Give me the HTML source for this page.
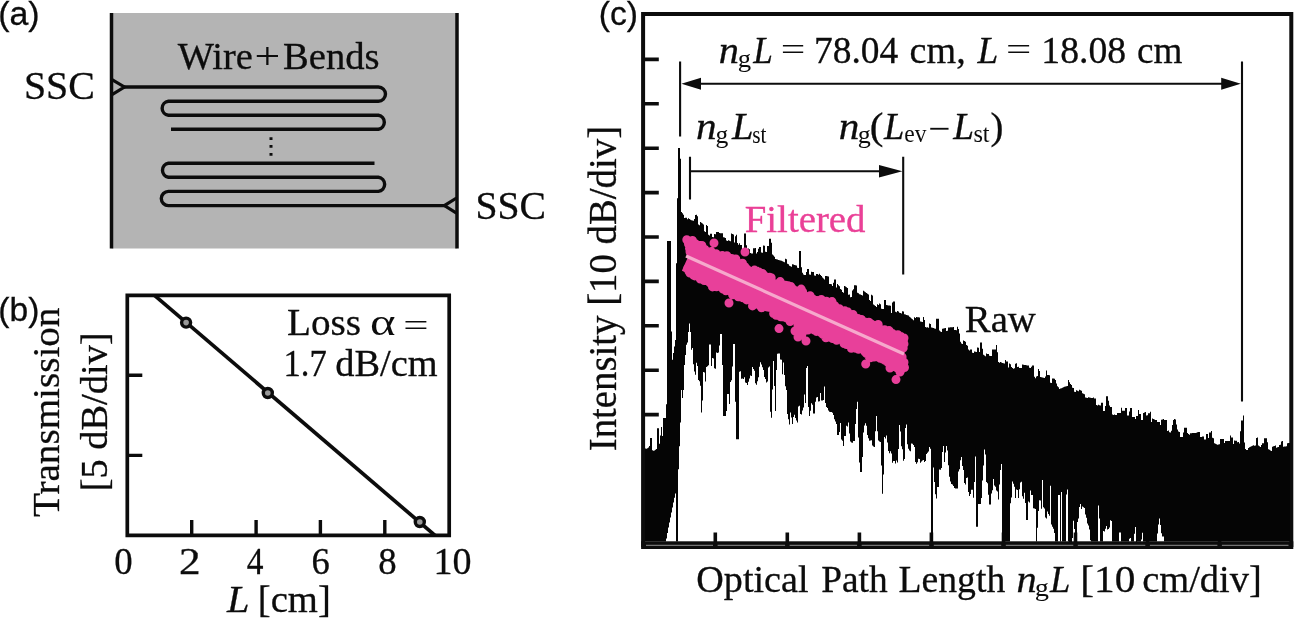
<!DOCTYPE html>
<html lang="en"><head><meta charset="utf-8"><title>Figure</title>
<style>html,body{margin:0;padding:0;background:#fff}body{width:1294px;height:622px;overflow:hidden}svg{display:block}
text{font-family:"Liberation Serif", serif;fill:#0c0c0c;stroke:#0c0c0c;stroke-width:.3px}.s{font-family:"Liberation Sans", sans-serif;stroke-width:.3px}.i{font-style:italic}.p{fill:#ea4097;stroke:#ea4097}.u{stroke:none}</style></head><body>
<svg width="1294" height="622" viewBox="0 0 1294 622">
<rect width="1294" height="622" fill="#fff"/>
<g id="pa">
<rect x="111.5" y="13" width="345.5" height="235.5" fill="#b4b4b4"/>
<path d="M111.5 13V248.5M457 13V248.5" stroke="#0c0c0c" stroke-width="3.5" fill="none"/>
<path d="M123 87H378.4A7.1 7.1 0 0 1 378.4 101.2H168.4A7.1 7.1 0 0 0 168.4 115.3H378.4A7.1 7.1 0 0 1 378.4 129.3H171" stroke="#0c0c0c" stroke-width="3.4" fill="none"/>
<path d="M374.5 163.3H168.4A7.1 7.1 0 0 0 168.4 177.3H378.4A7.1 7.1 0 0 1 378.4 191.4H168.4A7.1 7.1 0 0 0 168.4 205.6H446" stroke="#0c0c0c" stroke-width="3.4" fill="none"/>
<path d="M112 79.6L124.4 87L112 94.6" stroke="#0c0c0c" stroke-width="3.2" fill="none"/>
<path d="M456.5 198L444.4 205.6L456.5 213.2" stroke="#0c0c0c" stroke-width="3.2" fill="none"/>
<path d="M269.5 137.2h3v2.8h-3zM269.5 144.9h3v2.8h-3zM269.5 153h3v2.8h-3z" fill="#0c0c0c"/>
<text x="177.65" y="68.80" font-size="37.5" textLength="75.18" lengthAdjust="spacingAndGlyphs">Wire</text>
<text class="u" x="254.57" y="68.80" font-size="37.5" textLength="25.75" lengthAdjust="spacingAndGlyphs">+</text>
<text x="282.97" y="68.80" font-size="37.5" textLength="96.62" lengthAdjust="spacingAndGlyphs">Bends</text>
<text x="23.89" y="98.60" font-size="40.5" textLength="70.99" lengthAdjust="spacingAndGlyphs">SSC</text>
<text x="475.51" y="219.20" font-size="40.5" textLength="70.56" lengthAdjust="spacingAndGlyphs">SSC</text>
<text class="s" x="-1.75" y="25.10" font-size="33" textLength="41.40" lengthAdjust="spacingAndGlyphs">(a)</text>
</g>
<g id="pb">
<path d="M127.3 295.3H449.2V535.4H127.3Z" fill="#fff" stroke="#0c0c0c" stroke-width="3.7"/>
<path d="M127.3 375.3H142.3M127.3 455.4H142.3M191.7 535V520M256.1 535V520M320.4 535V520M384.8 535V520" stroke="#0c0c0c" stroke-width="3.4" fill="none"/>
<path d="M154.5 295.3L435 535.4" stroke="#0c0c0c" stroke-width="3.7" fill="none"/>
<circle cx="186.1" cy="322.6" r="4.5" fill="#999" stroke="#0c0c0c" stroke-width="3.4"/>
<circle cx="267.8" cy="393" r="4.5" fill="#999" stroke="#0c0c0c" stroke-width="3.4"/>
<circle cx="419.8" cy="522" r="4.5" fill="#999" stroke="#0c0c0c" stroke-width="3.4"/>
<text x="286.97" y="335.20" font-size="38" textLength="74.07" lengthAdjust="spacingAndGlyphs">Loss</text>
<text class="u" x="370.08" y="335.20" font-size="38" textLength="25.50" lengthAdjust="spacingAndGlyphs">α</text>
<text class="u" x="403.16" y="336.40" font-size="31.5" textLength="25.29" lengthAdjust="spacingAndGlyphs">=</text>
<text x="283.61" y="375.60" font-size="37.5" textLength="43.12" lengthAdjust="spacingAndGlyphs">1.7</text>
<text x="335.22" y="375.60" font-size="37.5" textLength="102.39" lengthAdjust="spacingAndGlyphs">dB/cm</text>
<text x="114.15" y="573.80" font-size="38" textLength="18.41" lengthAdjust="spacingAndGlyphs">0</text>
<text x="179.11" y="573.80" font-size="38" textLength="21.55" lengthAdjust="spacingAndGlyphs">2</text>
<text x="246.84" y="573.80" font-size="38" textLength="16.70" lengthAdjust="spacingAndGlyphs">4</text>
<text x="311.52" y="573.80" font-size="38" textLength="18.29" lengthAdjust="spacingAndGlyphs">6</text>
<text x="378.15" y="573.80" font-size="38" textLength="18.41" lengthAdjust="spacingAndGlyphs">8</text>
<text x="433.55" y="573.80" font-size="38" textLength="38.06" lengthAdjust="spacingAndGlyphs">10</text>
<text transform="translate(58.70 517.06) rotate(-90)" font-size="38.5" textLength="209.50" lengthAdjust="spacingAndGlyphs">Transmission</text>
<text transform="translate(106.70 491.34) rotate(-90)" font-size="38.5" textLength="158.98" lengthAdjust="spacingAndGlyphs">[5 dB/div]</text>
<text class="s" x="-1.74" y="321.20" font-size="33" textLength="41.07" lengthAdjust="spacingAndGlyphs">(b)</text>
<text x="227.13" y="612.40" font-size="38" textLength="22.48" lengthAdjust="spacingAndGlyphs"><tspan class="i">L</tspan></text>
<text x="257.80" y="612.40" font-size="38" textLength="72.98" lengthAdjust="spacingAndGlyphs">[cm]</text>
</g>
<g id="pc">
<path d="M643.1 14H1291.3V545H643.1Z" fill="#fff" stroke="#0c0c0c" stroke-width="4"/>
<path d="M643 59.4H658.8M643 103.8H658.8M643 148.2H658.8M643 192.6H658.8M643 237H658.8M643 281.4H658.8M643 325.8H658.8M643 370.2H658.8M643 414.6H658.8M643 459H658.8M643 503.4H658.8" stroke="#0c0c0c" stroke-width="3.6" fill="none"/>
<path d="M715.3 543V532.5M787.3 543V532.5M859.4 543V532.5M931.4 543V532.5M1003.5 543V532.5M1075.5 543V532.5M1147.6 543V532.5M1219.6 543V532.5" stroke="#0c0c0c" stroke-width="3.6" fill="none"/>
<path d="M645 541.5L645 448.5H646L646 448.8H647L647 448.2H648L648 447.4H649L649 446.1H650L650 438H651L651 438H652L652 450.3H653L653 450.8H654L654 450.6H655L655 449.8H656L656 449.1H657L657 428.3H658L658 428.3H659L659 443.8H660L660 435.5H661L661 427H662L662 436H663L663 418H664L664 418H665L665 418H666L666 404.2H667L667 241H668L668 241H669L669 241H670L670 241H671L671 331.5H672L672 359.7H673L673 353.1H674L674 346.6H675L675 340H676L676 263.2H677L677 198.2H678L678 148H679L679 148H680L680 158.7H681L681 212.1H682L682 213.3H683L683 214.7H684L684 218H685L685 217.7H686L686 217.7H687L687 219.2H688L688 218.3H689L689 219H690L690 219.7H691L691 220.2H692L692 220.5H693L693 220.8H694L694 219H695L695 215.1H696L696 214.7H697L697 216.3H698L698 224.4H699L699 225.2H700L700 222H701L701 222.8H702L702 223.6H703L703 224.4H704L704 231.3H705L705 232.1H706L706 225H707L707 225.9H708L708 234.7H709L709 235.6H710L710 233.7H711L711 233.7H712L712 237H713L713 237.2H714L714 233.9H715L715 234.2H716L716 231.9H717L717 232H718L718 232.1H719L719 233.1H720L720 233.2H721L721 233.2H722L722 233.2H723L723 237.3H724L724 237.5H725L725 238H726L726 240.4H727L727 240.9H728L728 240.3H729L729 240.7H730L730 241.2H731L731 233.6H732L732 234H733L733 234.5H734L734 242.4H735L735 236.3H736L736 234.8H737L737 243H738L738 244.7H739L739 243.3H740L740 245H741L741 245H742L742 250H743L743 250H744L744 233.4H745L745 233.4H746L746 245.2H747L747 250.7H748L748 248.5H749L749 249.3H750L750 253.1H751L751 253.5H752L752 253.4H753L753 248.3H754L754 248.2H755L755 248.1H756L756 253.5H757L757 251.9H758L758 248.8H759L759 247H760L760 247H761L761 252.5H762L762 252.8H763L763 245.5H764L764 245.7H765L765 251.8H766L766 251.9H767L767 245.9H768L768 246H769L769 238.8H770L770 238.8H771L771 242.8H772L772 254.5H773L773 255.6H774L774 256.7H775L775 259H776L776 259.3H777L777 259.6H778L778 259.9H779L779 260.2H780L780 260.5H781L781 260.8H782L782 261.2H783L783 261.8H784L784 262.2H785L785 258.8H786L786 259.2H787L787 263.8H788L788 264.2H789L789 265.8H790L790 266.2H791L791 266.8H792L792 264.2H793L793 264.6H794L794 264.9H795L795 265.2H796L796 265.4H797L797 267.7H798L798 268H799L799 251H800L800 251H801L801 267.2H802L802 272.8H803L803 274.5H804L804 275H805L805 275H806L806 272H807L807 269H808L808 269H809L809 274.6H810L810 274.7H811L811 271.8H812L812 271.9H813L813 272H814L814 275.6H815L815 275.7H816L816 273.9H817L817 274H818L818 274.8H819L819 273.8H820L820 274.9H821L821 275.9H822L822 277.4H823L823 278.4H824L824 279.5H825L825 276H826L826 276.1H827L827 276.3H828L828 276.4H829L829 284H830L830 284.1H831L831 284.3H832L832 285.9H833L833 282.8H834L834 279.5H835L835 279.5H836L836 287.6H837L837 283.9H838L838 285.2H839L839 286.3H840L840 289H841L841 289.7H842L842 291.9H843L843 292.7H844L844 285.9H845L845 286.6H846L846 287.3H847L847 288.1H848L848 294.8H849L849 294.6H850L850 297.3H851L851 297.1H852L852 290.4H853L853 289.3H854L854 285.2H855L855 285.2H856L856 285.5H857L857 292.8H858L858 293.2H859L859 294.2H860L860 294.6H861L861 295.1H862L862 295.5H863L863 290.7H864L864 291.5H865L865 292.2H866L866 292.9H867L867 293.7H868L868 294.4H869L869 300.1H870L870 300.9H871L871 294.8H872L872 295.6H873L873 304.4H874L874 305.3H875L875 306.1H876L876 306.9H877L877 304.3H878L878 305.1H879L879 303.4H880L880 304.3H881L881 308.8H882L882 308.9H883L883 308.9H884L884 300H885L885 300H886L886 305.1H887L887 305.2H888L888 305.4H889L889 305.6H890L890 305.7H891L891 312.9H892L892 302.5H893L893 301.5H894L894 301.5H895L895 311.8H896L896 312.2H897L897 311H898L898 311.4H899L899 312.8H900L900 313.1H901L901 313.4H902L902 311.2H903L903 311.5H904L904 314.3H905L905 314.6H906L906 314.9H907L907 315.2H908L908 315.5H909L909 316.8H910L910 317.5H911L911 318.4H912L912 319.3H913L913 320.2H914L914 317.2H915L915 318.1H916L916 317H917L917 317.2H918L918 317.3H919L919 317.5H920L920 321.6H921L921 321.8H922L922 322H923L923 317H924L924 320H925L925 327.1H926L926 327.6H927L927 327.2H928L928 327.8H929L929 323.4H930L930 324H931L931 327.4H932L932 327.7H933L933 328.1H934L934 328.5H935L935 328.8H936L936 318.8H937L937 318.8H938L938 318.8H939L939 330.6H940L940 331.5H941L941 331.9H942L942 328.7H943L943 328.5H944L944 328.3H945L945 328.1H946L946 330.9H947L947 330.7H948L948 327.5H949L949 327.4H950L950 327.3H951L951 327.3H952L952 327.2H953L953 327.1H954L954 330.1H955L955 330H956L956 330.2H957L957 326.8H958L958 329.1H959L959 333.4H960L960 341.7H961L961 343.4H962L962 344H963L963 340.6H964L964 341.1H965L965 341.7H966L966 344.9H967L967 345.8H968L968 349.6H969L969 350.5H970L970 349.5H971L971 349.6H972L972 352.8H973L973 353H974L974 351.6H975L975 351.8H976L976 352H977L977 347.6H978L978 347.8H979L979 352H980L980 342.6H981L981 342.6H982L982 348.8H983L983 354.7H984L984 355.5H985L985 356.3H986L986 353.6H987L987 354.1H988L988 354.1H989L989 355.8H990L990 355.9H991L991 355.9H992L992 349.5H993L993 349.5H994L994 349.5H995L995 349.5H996L996 345H997L997 352.2H998L998 362H999L999 362.8H1000L1000 362.1H1001L1001 362.6H1002L1002 362.9H1003L1003 363.2H1004L1004 363.4H1005L1005 360.1H1006L1006 361.6H1007L1007 361.6H1008L1008 367.6H1009L1009 363.4H1010L1010 364.3H1011L1011 367.1H1012L1012 367.9H1013L1013 368.7H1014L1014 368.2H1015L1015 363.7H1016L1016 363.2H1017L1017 366.9H1018L1018 366.8H1019L1019 368.1H1020L1020 368H1021L1021 368H1022L1022 364.6H1023L1023 364.8H1024L1024 364.9H1025L1025 365.1H1026L1026 365.2H1027L1027 365.4H1028L1028 365.6H1029L1029 367.7H1030L1030 367.9H1031L1031 366.8H1032L1032 365.6H1033L1033 365.6H1034L1034 376.8H1035L1035 378.3H1036L1036 376.4H1037L1037 376H1038L1038 369H1039L1039 371H1040L1040 377.1H1041L1041 377.3H1042L1042 377.5H1043L1043 377.8H1044L1044 378H1045L1045 376.4H1046L1046 370.4H1047L1047 375H1048L1048 375.1H1049L1049 375.2H1050L1050 382.8H1051L1051 382.9H1052L1052 378.5H1053L1053 378.6H1054L1054 378.7H1055L1055 380.1H1056L1056 383.6H1057L1057 386.2H1058L1058 387.3H1059L1059 388.9H1060L1060 388.6H1061L1061 388.2H1062L1062 387.8H1063L1063 387.2H1064L1064 386.8H1065L1065 386.4H1066L1066 386.2H1067L1067 386.1H1068L1068 380.1H1069L1069 382.2H1070L1070 384.1H1071L1071 385.1H1072L1072 387.8H1073L1073 388.1H1074L1074 391.8H1075L1075 392H1076L1076 390.3H1077L1077 390.7H1078L1078 391.2H1079L1079 389.7H1080L1080 390.2H1081L1081 390.7H1082L1082 393.2H1083L1083 393.7H1084L1084 394.2H1085L1085 397.5H1086L1086 397.7H1087L1087 398H1088L1088 397.3H1089L1089 397.6H1090L1090 397.8H1091L1091 397.9H1092L1092 398H1093L1093 397.5H1094L1094 398.5H1095L1095 398.5H1096L1096 404.9H1097L1097 405.6H1098L1098 404.7H1099L1099 405.3H1100L1100 405.6H1101L1101 402.7H1102L1102 402.8H1103L1103 410.9H1104L1104 410.9H1105L1105 406.1H1106L1106 396.3H1107L1107 396.3H1108L1108 400.8H1109L1109 405.5H1110L1110 407H1111L1111 407H1112L1112 414.4H1113L1113 414.9H1114L1114 414.4H1115L1115 414.9H1116L1116 415H1117L1117 413H1118L1118 413H1119L1119 413H1120L1120 413H1121L1121 407.8H1122L1122 410.8H1123L1123 410.8H1124L1124 410.8H1125L1125 408H1126L1126 408H1127L1127 415.5H1128L1128 415.5H1129L1129 411.5H1130L1130 408H1131L1131 408H1132L1132 417H1133L1133 417H1134L1134 417H1135L1135 419H1136L1136 416H1137L1137 416H1138L1138 410H1139L1139 414H1140L1140 414H1141L1141 420H1142L1142 420H1143L1143 413H1144L1144 412.6H1145L1145 411.9H1146L1146 415.4H1147L1147 415.2H1148L1148 413.2H1149L1149 413.2H1150L1150 411.7H1151L1151 422.1H1152L1152 418.6H1153L1153 419H1154L1154 419.4H1155L1155 419.9H1156L1156 420H1157L1157 422H1158L1158 422H1159L1159 422H1160L1160 425H1161L1161 419.8H1162L1162 419.4H1163L1163 418.9H1164L1164 419.9H1165L1165 419.9H1166L1166 419.9H1167L1167 431.1H1168L1168 430.6H1169L1169 432.2H1170L1170 432.4H1171L1171 430.7H1172L1172 425H1173L1173 420H1174L1174 419H1175L1175 419.5H1176L1176 424.5H1177L1177 429.5H1178L1178 431.5H1179L1179 432H1180L1180 437H1181L1181 437H1182L1182 437H1183L1183 432.4H1184L1184 427.8H1185L1185 427.8H1186L1186 427.8H1187L1187 433.1H1188L1188 433.9H1189L1189 434.7H1190L1190 433.3H1191L1191 433.2H1192L1192 433H1193L1193 433H1194L1194 433H1195L1195 433H1196L1196 432.8H1197L1197 432.3H1198L1198 432H1199L1199 432H1200L1200 437H1201L1201 437H1202L1202 436.5H1203L1203 436.5H1204L1204 439.5H1205L1205 439.5H1206L1206 434H1207L1207 434H1208L1208 438H1209L1209 432.5H1210L1210 432.5H1211L1211 431H1212L1212 437.7H1213L1213 438.2H1214L1214 443.2H1215L1215 443.7H1216L1216 444.2H1217L1217 444.7H1218L1218 444.5H1219L1219 444.2H1220L1220 439H1221L1221 439H1222L1222 439H1223L1223 439H1224L1224 443H1225L1225 441H1226L1226 441H1227L1227 441H1228L1228 441H1229L1229 441H1230L1230 435.5H1231L1231 437.5H1232L1232 437.5H1233L1233 444.1H1234L1234 440.5H1235L1235 440.8H1236L1236 440.8H1237L1237 442.3H1238L1238 441.9H1239L1239 443.4H1240L1240 431.2H1241L1241 420.4H1242L1242 420.4H1243L1243 415.4H1244L1244 442.6H1245L1245 449H1246L1246 449.9H1247L1247 450H1248L1248 447.9H1249L1249 447.3H1250L1250 446.8H1251L1251 446.2H1252L1252 445.8H1253L1253 445.2H1254L1254 445.8H1255L1255 445.4H1256L1256 437.9H1257L1257 437.5H1258L1258 445.5H1259L1259 446.3H1260L1260 447.1H1261L1261 445.1H1262L1262 443.3H1263L1263 443.3H1264L1264 438.3H1265L1265 438.3H1266L1266 438.3H1267L1267 442.3H1268L1268 449.3H1269L1269 449.8H1270L1270 450.4H1271L1271 450.9H1272L1272 446.7H1273L1273 446.3H1274L1274 445.9H1275L1275 445.6H1276L1276 447.7H1277L1277 447.3H1278L1278 447H1279L1279 445.1H1280L1280 444.8H1281L1281 441.4H1282L1282 441H1283L1283 446.7H1284L1284 446.5H1285L1285 446.4H1286L1286 446.3H1287L1287 443.2H1288L1288 443.1H1289L1289 443H1290L1290 541.5H1289L1289 541.5H1288L1288 541.5H1287L1287 541.5H1286L1286 541.5H1285L1285 541.5H1284L1284 541.5H1283L1283 541.5H1282L1282 541.5H1281L1281 541.5H1280L1280 541.5H1279L1279 541.5H1278L1278 541.5H1277L1277 541.5H1276L1276 541.5H1275L1275 541.5H1274L1274 541.5H1273L1273 541.5H1272L1272 541.5H1271L1271 541.5H1270L1270 541.5H1269L1269 541.5H1268L1268 541.5H1267L1267 541.5H1266L1266 541.5H1265L1265 541.5H1264L1264 541.5H1263L1263 541.5H1262L1262 541.5H1261L1261 541.5H1260L1260 541.5H1259L1259 541.5H1258L1258 541.5H1257L1257 541.5H1256L1256 541.5H1255L1255 541.5H1254L1254 541.5H1253L1253 541.5H1252L1252 541.5H1251L1251 541.5H1250L1250 541.5H1249L1249 541.5H1248L1248 541.5H1247L1247 541.5H1246L1246 541.5H1245L1245 541.5H1244L1244 541.5H1243L1243 541.5H1242L1242 541.5H1241L1241 541.5H1240L1240 541.5H1239L1239 541.5H1238L1238 541.5H1237L1237 541.5H1236L1236 541.5H1235L1235 541.5H1234L1234 541.5H1233L1233 541.5H1232L1232 541.5H1231L1231 541.5H1230L1230 541.5H1229L1229 541.5H1228L1228 541.5H1227L1227 541.5H1226L1226 541.5H1225L1225 541.5H1224L1224 541.5H1223L1223 541.5H1222L1222 541.5H1221L1221 541.5H1220L1220 541.5H1219L1219 541.5H1218L1218 541.5H1217L1217 541.5H1216L1216 541.5H1215L1215 541.5H1214L1214 541.5H1213L1213 541.5H1212L1212 541.5H1211L1211 541.5H1210L1210 541.5H1209L1209 541.5H1208L1208 541.5H1207L1207 541.5H1206L1206 541.5H1205L1205 541.5H1204L1204 541.5H1203L1203 541.5H1202L1202 541.5H1201L1201 541.5H1200L1200 541.5H1199L1199 541.5H1198L1198 541.5H1197L1197 541.5H1196L1196 541.5H1195L1195 541.5H1194L1194 541.5H1193L1193 541.5H1192L1192 541.5H1191L1191 541.5H1190L1190 541.5H1189L1189 541.5H1188L1188 541.5H1187L1187 541.5H1186L1186 541.5H1185L1185 541.5H1184L1184 541.5H1183L1183 541.5H1182L1182 541.5H1181L1181 541.5H1180L1180 541.5H1179L1179 541.5H1178L1178 541.5H1177L1177 541.5H1176L1176 541.5H1175L1175 541.5H1174L1174 541.5H1173L1173 541.5H1172L1172 541.5H1171L1171 541.5H1170L1170 541.5H1169L1169 541.5H1168L1168 541.5H1167L1167 541.5H1166L1166 541.5H1165L1165 541.5H1164L1164 536.5H1163L1163 536.5H1162L1162 533.3H1161L1161 525H1160L1160 518.5H1159L1159 524.6H1158L1158 533.5H1157L1157 541.5H1156L1156 541.5H1155L1155 541.5H1154L1154 541.5H1153L1153 541.5H1152L1152 541.5H1151L1151 541.5H1150L1150 541.5H1149L1149 541.5H1148L1148 541.5H1147L1147 541.5H1146L1146 541.5H1145L1145 541.5H1144L1144 541.5H1143L1143 532.8H1142L1142 539.6H1141L1141 541.5H1140L1140 541.5H1139L1139 541.5H1138L1138 541.5H1137L1137 543H1136L1136 527H1135L1135 533.8H1134L1134 541.5H1133L1133 541.5H1132L1132 541.5H1131L1131 538H1130L1130 538.8H1129L1129 541.5H1128L1128 541.5H1127L1127 541.5H1126L1126 541.5H1125L1125 541.5H1124L1124 541.5H1123L1123 541.5H1122L1122 541.5H1121L1121 532.5H1120L1120 532.5H1119L1119 541.5H1118L1118 541.5H1117L1117 541.5H1116L1116 541.5H1115L1115 541.5H1114L1114 541.5H1113L1113 541.5H1112L1112 521H1111L1111 520.2H1110L1110 527.4H1109L1109 528.9H1108L1108 529.6H1107L1107 526.1H1106L1106 528.8H1105L1105 531.4H1104L1104 531H1103L1103 541.5H1102L1102 541.5H1101L1101 541.5H1100L1100 518.6H1099L1099 505.6H1098L1098 541.5H1097L1097 541.5H1096L1096 541.5H1095L1095 541.5H1094L1094 541.5H1093L1093 541.5H1092L1092 541.5H1091L1091 540.3H1090L1090 529.6H1089L1089 525.5H1088L1088 523.4H1087L1087 517.8H1086L1086 514.4H1085L1085 508.1H1084L1084 507.2H1083L1083 506.4H1082L1082 509H1081L1081 504H1080L1080 507H1079L1079 518.4H1078L1078 521.9H1077L1077 544H1076L1076 544H1075L1075 529H1074L1074 520.7H1073L1073 538H1072L1072 543H1071L1071 543H1070L1070 543H1069L1069 541.5H1068L1068 489.6H1067L1067 494.6H1066L1066 541.5H1065L1065 541.5H1064L1064 541.5H1063L1063 541.5H1062L1062 492H1061L1061 541.5H1060L1060 495H1059L1059 495H1058L1058 541.5H1057L1057 541.5H1056L1056 541.5H1055L1055 533H1054L1054 528.8H1053L1053 526.7H1052L1052 524.5H1051L1051 485.8H1050L1050 515.8H1049L1049 514.1H1048L1048 511.6H1047L1047 518.5H1046L1046 517.5H1045L1045 508.4H1044L1044 507.3H1043L1043 480H1042L1042 508.8H1041L1041 500.5H1040L1040 500.2H1039L1039 511H1038L1038 527.8H1037L1037 541.5H1036L1036 509H1035L1035 508.6H1034L1034 508.2H1033L1033 495H1032L1032 495H1031L1031 490.5H1030L1030 502.5H1029L1029 501.4H1028L1028 520H1027L1027 520H1026L1026 503H1025L1025 492.7H1024L1024 498.8H1023L1023 496.2H1022L1022 481.8H1021L1021 482.5H1020L1020 489.3H1019L1019 498H1018L1018 490H1017L1017 489.6H1016L1016 498.1H1015L1015 486.7H1014L1014 483.8H1013L1013 481.5H1012L1012 497.6H1011L1011 503.3H1010L1010 541.5H1009L1009 541.5H1008L1008 541.5H1007L1007 541.5H1006L1006 541.5H1005L1005 541.5H1004L1004 541.5H1003L1003 541.5H1002L1002 464H1001L1001 470H1000L1000 484.6H999L999 499.6H998L998 491.6H997L997 490.5H996L996 486.8H995L995 485.5H994L994 479H993L993 490.3H992L992 493.4H991L991 504.6H990L990 504.6H989L989 494.8H988L988 483.3H987L987 482.1H986L986 454.5H985L985 449.5H984L984 465.5H983L983 480.5H982L982 498H981L981 504H980L980 504H979L979 504H978L978 526.8H977L977 526.8H976L976 456.5H975L975 482H974L974 497.7H973L973 489.7H972L972 489.7H971L971 493.9H970L970 496H969L969 492H968L968 477.4H967L967 478.1H966L966 484.6H965L965 482.9H964L964 470H963L963 466H962L962 457H961L961 460.2H960L960 469.2H959L959 471.4H958L958 488.6H957L957 488.6H956L956 488.6H955L955 488.1H954L954 485.9H953L953 484.6H952L952 484.1H951L951 481.4H950L950 476.8H949L949 465.2H948L948 450.5H947L947 445.9H946L946 452.5H945L945 462H944L944 445.9H943L943 452H942L942 467.9H941L941 469.7H940L940 469.5H939L939 487H938L938 487H937L937 498.6H936L936 494.2H935L935 481.9H934L934 467.6H933L933 541.5H932L932 541.5H931L931 448.8H930L930 446.9H929L929 451.6H928L928 452.8H927L927 453.9H926L926 461.1H925L925 462.1H924L924 459.9H923L923 460.6H922L922 461.6H921L921 462.8H920L920 459H919L919 458.8H918L918 462.3H917L917 463.8H916L916 462H915L915 447H914L914 445H913L913 443.8H912L912 443.5H911L911 451.2H910L910 450.6H909L909 448.8H908L908 444.3H907L907 424.6H906L906 427.9H905L905 459.1H904L904 460.7H903L903 449.3H902L902 446.2H901L901 431.4H900L900 425.1H899L899 449.1H898L898 462.4H897L897 460.6H896L896 463.4H895L895 461.1H894L894 460.9H893L893 462.7H892L892 453.4H891L891 451.3H890L890 453.2H889L889 451.1H888L888 442.5H887L887 435.5H886L886 438.4H885L885 437.1H884L884 474.4H883L883 493.8H882L882 465.4H881L881 442H880L880 441.5H879L879 440.5H878L878 431.2H877L877 416.1H876L876 431.3H875L875 447H874L874 446.5H873L873 445.5H872L872 440.2H871L871 440.6H870L870 440.7H869L869 438.2H868L868 435H867L867 425.7H866L866 423.2H865L865 425.5H864L864 432.4H863L863 457H862L862 472H861L861 472H860L860 462.5H859L859 437.5H858L858 401.7H857L857 409.1H856L856 423.9H855L855 441H854L854 441H853L853 442.8H852L852 442.6H851L851 441.6H850L850 433.5H849L849 422.6H848L848 426.6H847L847 425.7H846L846 436H845L845 436H844L844 446H843L843 440.8H842L842 439.4H841L841 423H840L840 432H839L839 435H838L838 435H837L837 423.9H836L836 421.6H835L835 419.3H834L834 415H833L833 412.7H832L832 412H831L831 412H830L830 411.7H829L829 410.6H828L828 408H827L827 407H826L826 403H825L825 386.5H824L824 400.1H823L823 400.4H822L822 400.6H821L821 392.9H820L820 401.2H819L819 401.6H818L818 397H817L817 397.4H816L816 401.8H815L815 413.5H814L814 413.5H813L813 404.8H812L812 403.3H811L811 410.8H810L810 416H809L809 407H808L808 366H807L807 368H806L806 402.9H805L805 394.5H804L804 407.5H803L803 410.5H802L802 414.5H801L801 413.9H800L800 405.7H799L799 406.5H798L798 422.6H797L797 420.6H796L796 418H795L795 414.7H794L794 417H793L793 424H792L792 417.5H791L791 412.5H790L790 424.5H789L789 419.3H788L788 413.9H787L787 389.9H786L786 386.3H785L785 374.9H784L784 362.5H783L783 374.2H782L782 359.8H781L781 359.5H780L780 353.4H779L779 353.6H778L778 353.8H777L777 370H776L776 411H775L775 386H774L774 361H773L773 389.4H772L772 417.8H771L771 411.8H770L770 366.6H769L769 367.6H768L768 381.5H767L767 382.5H766L766 379H765L765 377H764L764 370H763L763 367.2H762L762 364.4H761L761 362.3H760L760 366.8H759L759 377.3H758L758 381.2H757L757 384.7H756L756 383.2H755L755 370.8H754L754 369H753L753 367H752L752 375.9H751L751 375.4H750L750 378.6H749L749 381.7H748L748 384.9H747L747 383H746L746 382.6H745L745 377.3H744L744 378.9H743L743 378.5H742L742 378.7H741L741 371.2H740L740 371.7H739L739 439.3H738L738 439.3H737L737 439.3H736L736 401.8H735L735 344H734L734 344H733L733 366.4H732L732 380.2H731L731 382H730L730 404H729L729 394H728L728 394H727L727 411H726L726 416H725L725 416H724L724 416H723L723 365H722L722 334.1H721L721 334.1H720L720 345.5H719L719 352.5H718L718 353H717L717 352.4H716L716 368.8H715L715 368.2H714L714 358.6H713L713 358H712L712 366H711L711 344.4H710L710 344.4H709L709 365.2H708L708 366.3H707L707 366.9H706L706 381.6H705L705 372.4H704L704 371.9H703L703 400.4H702L702 412.4H701L701 385.8H700L700 381.3H699L699 380.1H698L698 365.9H697L697 362.8H696L696 374.7H695L695 371.6H694L694 364.3H693L693 348H692L692 349.7H691L691 332H690L690 323.6H689L689 332H688L688 342.4H687L687 344.8H686L686 355H685L685 365H684L684 390H683L683 398H682L682 390H681L681 422.5H680L680 446.2H679L679 469.2H678L678 541.5H677L677 541.5H676L676 493.5H675L675 497.8H674L674 502.5H673L673 507.5H672L672 512.5H671L671 517.5H670L670 522.5H669L669 527.5H668L668 532.9H667L667 538.6H666L666 541.5H665L665 541.5H664L664 541.5H663L663 541.5H662L662 541.5H661L661 541.5H660L660 541.5H659L659 541.5H658L658 541.5H657L657 541.5H656L656 541.5H655L655 541.5H654L654 541.5H653L653 541.5H652L652 541.5H651L651 541.5H650L650 541.5H649L649 541.5H648L648 541.5H647L647 541.5H646L646 541.5H645Z" fill="#050505"/>
<rect x="641.1" y="541.3" width="652.2" height="7.7" fill="#0c0c0c"/><path d="M646 545.3H713M717.6 545.3H785.1M789.6 545.3H857.1M861.7 545.3H929.2M933.8 545.3H1001.2M1005.8 545.3H1073.3M1077.8 545.3H1145.3M1149.9 545.3H1217.4M1221.9 545.3H1288.5" stroke="#b0b0b0" stroke-width="0.8" fill="none"/>
<path d="M688 257L902 353" stroke="#e8409a" stroke-width="30" fill="none"/>
<path d="M748.2 275.5h0M869.3 327.7h0M801.7 311.2h0M694.3 254.7h0M828.3 304.3h0M729.9 289.9h0M827.8 304.7h0M737.2 274.5h0M768 292h0M838.3 334h0M766.3 286.4h0M689.5 248.4h0M870.6 323.6h0M795.1 293.2h0M853.4 319.2h0M788.5 292h0M880.1 328.9h0M822.7 323.3h0M881.6 342.5h0M884.6 329.7h0M816.5 329.8h0M699.7 245.7h0M816.8 309.9h0M841.3 313.5h0M785.1 309.9h0M755.9 273.2h0M705.1 251.8h0M729.2 282.8h0M801.4 305.4h0M755.4 296.9h0M869.3 355h0M783.6 285.5h0M704.9 249.5h0M778.8 311.9h0M809.2 322.1h0M770.1 304.8h0M754.7 298.9h0M707 274.5h0M730.3 278.9h0M784.4 292h0M847.3 326.4h0M824.4 307.7h0M823.1 312.3h0M769.1 290.7h0M861.5 319.4h0M730.1 260.4h0M818.8 308.8h0M760.4 305.3h0M697.4 271.5h0M836.9 339h0M752.2 295.4h0M816.6 326.8h0M892.4 333.4h0M866.4 322.8h0M842.6 323.8h0M855.7 343.9h0M885.3 357.9h0M716.7 269.3h0M689.9 273.1h0M753.5 295.1h0M720.7 260.7h0M874 337.7h0M857.3 338.4h0M798.6 300.8h0M722.5 267.2h0M828.3 318.3h0M805.6 296.8h0M780.1 283.9h0M703.6 270.3h0M733 272.5h0M901.5 369.2h0M725.4 260h0M787.6 316h0M738.7 282.5h0M855.2 342.8h0M856.4 323.5h0M748.3 274.1h0M742.9 271.4h0M782.9 287.3h0M738.9 270.2h0M884 332.8h0M702 252.8h0M741.1 282.9h0M828.3 305.5h0M788.2 285.8h0M689 271.4h0M737.9 275.9h0M768.8 307.2h0M738.3 263.7h0M817.7 327.9h0M729.9 260.6h0M798.7 294.2h0M818.3 326.6h0M831.6 304.6h0M825.7 328.1h0M763.5 274.8h0M761.4 274h0M904 337.9h0M846.2 342.9h0M864 348.4h0M776.3 290.1h0M822.1 302.1h0M694.8 259.3h0M792.4 298.7h0M859.9 342h0M721.4 274.5h0M829.1 314.7h0M746.6 299.9h0M832.2 316.9h0M699.1 272.2h0M878.9 337.8h0M691.9 269.6h0M861.3 341.9h0M772.4 289.5h0M891.5 344.3h0M721.8 257.9h0M707.5 270.3h0M766.8 303.4h0M716.1 253.8h0M718.8 282.8h0M773.7 299.8h0M888.3 357h0M725.1 266.2h0M723 260h0M702.5 257.3h0M850.8 341.7h0M861.8 326.1h0M868.9 322.3h0M885.2 337h0M819.3 322.7h0M706.6 274.6h0M836.7 338h0M826.3 332.5h0M822.1 323.3h0M730.4 273.7h0M810.1 295.8h0M890.7 335h0M765.6 278.5h0M897.7 363.5h0M729.6 289.7h0M870 346.8h0M832.3 313.6h0M772.2 291.6h0M871.4 350.6h0M828.2 311.2h0M741.8 275.2h0M767.4 293.1h0M726.6 257.3h0M901 350h0M784.5 306.5h0M864.9 349.3h0M863.1 330.1h0M702.5 256.4h0M766.9 304.3h0M796.9 313.4h0M696.8 247.1h0M887.2 337.9h0M843.6 311.8h0M850.4 344.3h0M829 331.7h0M693.6 244h0M820.7 325.2h0M711.7 253.8h0M879.3 333.6h0M863.2 347.4h0M836.2 333.1h0M735.8 291.2h0M819.9 305.8h0M757.9 294.4h0M883.5 341.7h0M742.9 297.7h0M791.7 308.7h0M821 305.9h0M768.4 281.1h0M775.1 302.9h0M748.1 275.9h0M769.4 305.2h0M745.1 293.6h0M698.5 275.1h0M896.7 347.5h0M800.6 316.1h0M881.6 333.5h0M803.7 322.3h0M847.4 322h0M769.2 286.7h0M719.6 263.1h0M705.6 253.8h0M820.9 332.6h0M752 287.2h0M755 303.2h0M876 356.7h0M881.5 353.8h0M849.4 318.2h0M750.8 291.6h0M778.2 290.6h0M698.3 260.3h0M820.3 300.5h0M699.7 266.3h0M753.6 288.4h0M803.4 303.8h0M753 272.5h0M767.1 305.1h0M722.3 255.6h0M861.1 343.9h0M785.4 285.2h0M719.3 278.8h0M746.3 295.3h0M896.9 335.2h0M865.3 351h0M816.5 319.3h0M818 317h0M794.5 291.9h0M688.1 241.4h0M693.4 247.1h0M722.4 287.2h0M710.7 273.1h0M829.9 308.7h0M777.2 298.7h0M826.8 326.5h0M777.7 303.2h0M797.9 290.8h0M823.2 334.5h0M844.5 325.3h0M804.3 302.7h0M782.3 314.2h0M705.4 272.2h0M725.9 290.8h0M744.5 289.4h0M714.6 283.2h0M887.8 362.4h0M744.9 266.7h0M825.3 326.9h0M836.1 338.5h0M897.9 342.2h0M888.6 361.5h0M706.5 266.1h0M724.7 288h0M869.8 326.8h0M722.4 287.3h0M729.5 269.6h0M817.9 309h0M872 354.7h0M900 365.2h0M803.9 306.7h0M802.6 291.6h0M693.7 275.4h0M738.5 293.8h0M858.5 327.7h0M814.4 317.8h0M725.1 257.3h0M712.2 274.1h0M723 289.1h0M839.4 308.7h0M717.9 277.4h0M697.2 245.7h0M698.1 274.8h0M852.5 319h0M894.2 352.2h0M831.5 335.4h0M851.2 339.6h0M770.9 283.6h0M731.9 260.4h0M893 363.9h0M850.8 315.2h0M850.3 336.6h0M791.1 289.5h0M859.1 341h0M751.6 277.7h0M744.4 275h0M888.9 331.4h0M852.1 345.5h0M854.2 337.2h0M790.8 293.8h0M849.1 340.9h0M694.7 261.6h0M709.2 264h0M698.4 265.7h0M842.3 338.9h0M812.1 303.3h0M782.2 301.2h0M750.3 295.4h0M699.7 254.7h0M708.7 275h0M866.3 353.3h0M816 330.4h0M799.3 311.6h0M722.3 284.6h0M890.7 337h0M723.8 288.5h0M853.6 330.3h0M902.1 357h0M710.6 259h0M708.6 281.4h0M880.6 353.8h0M779.2 305.1h0M768.3 284.2h0M780.5 301.6h0M725 290.1h0M824.2 333.8h0M715.4 274.5h0M836.9 329.5h0M695.3 265h0M800.7 321.3h0M785.3 304.2h0M757.8 285.6h0M836.8 313.6h0M737.9 271.5h0M826.8 328.1h0M797.7 296.3h0M851 342.8h0M821.3 326.5h0M898.5 361.2h0M818.2 308.1h0M739 295.8h0M743.9 297.9h0M902.9 340.7h0M830.1 308.8h0M720.6 258.3h0M753.3 277.2h0M747.1 269.2h0M884.9 335.9h0M879.2 340.2h0M690.7 271.5h0M782.3 288h0M899.9 343.1h0M692.8 248.8h0M847.5 311.7h0M740.3 293.7h0M839.5 330h0M827.8 332.9h0M832.3 329.2h0M877.6 349.1h0M814.1 302.5h0M727.2 260.6h0M781.4 288.7h0M839.3 339.3h0M740.4 274.9h0M841.9 313h0M871.5 337.8h0M692.2 272.3h0M799.9 314.9h0M876.6 356.1h0M758.9 272h0M867.7 352.4h0M711 256.8h0M735.1 287.5h0M893.5 337.4h0M763.2 303.9h0M786.7 289.5h0M790.8 286.5h0M859.2 327.2h0M762.1 300.4h0M786.7 318h0M727.7 276.1h0M889.5 357.3h0M820.6 323.4h0M742.5 275.2h0M701.3 247.7h0M885.7 352.4h0M833.8 327.2h0M711.6 258.7h0M774.5 311.7h0M897.8 368.1h0M895.5 347.4h0M723.5 288.2h0M702.9 275.4h0M729.7 282.7h0M843.7 339.2h0M719.6 279h0M867.4 349.3h0M777.3 313.9h0M852.1 338h0M856.4 330.2h0M857.3 322h0M840.1 333.8h0M900.3 360.6h0M792 315.7h0M860.6 327.4h0M829.4 312.1h0M792.7 310.4h0M706.5 279.7h0M721 262.9h0M771.2 279.4h0M810 303.6h0M891.6 350.8h0M762.6 295.2h0M830 309.1h0M703.6 254.7h0M819.4 320.6h0M872.5 327.6h0M785.6 312.3h0M733 271.7h0M803.5 314.7h0M836.6 340.2h0M707.5 280.3h0M806.5 317h0M752.2 285h0M734 262.5h0M869.3 346.4h0M713.3 254.2h0M778.5 310.2h0M790.2 306.6h0M792.6 318.6h0M839.3 314.3h0M723.6 278.4h0M846.7 315.3h0M757.3 296.9h0M795.5 296.2h0M788.6 297.7h0M904 362.2h0M727 267.5h0M827.6 303.2h0M697.9 271.4h0M903.8 366h0M708.3 264.5h0M851.5 317h0M734.1 272.7h0M715.4 254.5h0M830.3 313.3h0M856.2 336.1h0M885.1 336h0M761.9 279.7h0M699.4 252.7h0M764.7 290.6h0M760.1 305.9h0M876.6 334.2h0M732 275.7h0M713.5 256.2h0M842 312.3h0M898.1 336.5h0M903.2 348.1h0M807.7 305.4h0M812 307.1h0M711.4 251.6h0M865.5 334.6h0M853.5 315.7h0M796.2 308.6h0M769.2 280.1h0M833.5 330.9h0M877.3 327h0M696.5 267.5h0M823.1 305h0M831.3 335.1h0M779.1 283.3h0M889 330.6h0M876.3 328h0M754.8 296.2h0M874.3 328.3h0M695.4 243.7h0M810.3 316.5h0M885.4 345.2h0M800.8 320.2h0M855.1 327.4h0M838.3 319.1h0M702.5 271.7h0M816.3 331.4h0M830.4 307.8h0M854.3 335h0M705.9 262.7h0M881.5 350.4h0M780.2 281.6h0M832.6 338.6h0M873.4 328.9h0M714.2 266.4h0M747.5 287.9h0M785.4 311h0M887.3 339.7h0M849.4 338.2h0M719.3 281.7h0M751.3 289.1h0M795.6 313.2h0M880.2 358.2h0M699.4 245.8h0M701.1 276.9h0M836.3 329.8h0M772 286.1h0M817.6 331.2h0M868.3 343.8h0M756.3 303.4h0M845.2 325.2h0M724 289.3h0M713.2 284.1h0M723.4 284.8h0M791 314.5h0M785.8 291.1h0M851 322.3h0M748.5 290.4h0M828.6 332h0M817.6 328.9h0M844.8 310.7h0M720.6 284.4h0M814.3 330.1h0M741.2 274.8h0M769.3 304.5h0M738.6 276.3h0M836.7 315.5h0M745.9 269.9h0M886.8 357.1h0M857.1 323.6h0M718.4 284.9h0M902.5 340h0M898.7 363.4h0M806.3 321.3h0M796 308.1h0M804.6 307.9h0M770.5 305.5h0M844 343.6h0M754.8 271.3h0M773.4 304.5h0M888 351.8h0M690 251.7h0M804.8 312.1h0M764.7 275.9h0M774 297.4h0M744.1 294.9h0M757.3 288.9h0M731.6 265h0M707.9 277.9h0M750.6 289.7h0M765.5 303.1h0M873.1 329.5h0M887.3 345.7h0M875.1 334.5h0M788.1 286.9h0M756.2 271.3h0M748.6 289.9h0M708.3 254.3h0M876.1 345.5h0M814.7 302.4h0M887.9 337.2h0M709 262.8h0M816.1 320.3h0M716.3 282.7h0M761.2 306.7h0M769.7 277.3h0M695.5 253.6h0M840.4 324.1h0M870.7 353.4h0M874.4 347.7h0M887.2 355.6h0M707.4 257.3h0M738.4 264.7h0M886.9 347.1h0M727.5 287.9h0M768.1 282h0M843.7 314.2h0M891.4 363.9h0M700.8 266.2h0M694 274.6h0M743.7 283.3h0M847.7 339.5h0M792.4 289.3h0M756.6 270.9h0M731 286.6h0M815.4 310.4h0M828.9 317.9h0M768.3 287.1h0M769 287h0M783.3 311.9h0M885.5 360h0M789.1 317.2h0M860.6 321.4h0M867.9 322.7h0M821.6 310.5h0M849.8 340.9h0M894.9 365.1h0M771.2 277.8h0M704.2 280.5h0M757.7 277.3h0M713 261.4h0M759.7 299.2h0M726.9 271.1h0M880.1 339.4h0M720.3 266.6h0M741.3 264.5h0M811.3 303.3h0M861.7 324.8h0M711.6 264.4h0M792.2 290.6h0M798.9 313.4h0M858.1 348.6h0M808.9 324.1h0M713.7 279.1h0M897.7 347h0M744.5 271.5h0M739.4 274.1h0M777.8 284.3h0M867.8 354.2h0M719.2 277.9h0M783.5 300.8h0M798.3 302.8h0M858.5 349.2h0M749.9 277.7h0M696.8 255.7h0M747.8 271.4h0M870.2 340.7h0M737.8 266.7h0M817.7 327.9h0M880.1 353.2h0M852.4 318.3h0M717.6 278.2h0M823.7 305.8h0M754.5 270.1h0M837.5 325.9h0M869.7 353.5h0M800 299.8h0M748.9 291.2h0M892.3 333.9h0M776.5 307.5h0M716.8 277.7h0M741.6 285h0M900.9 336.5h0M839.7 329.6h0M873.3 333.1h0M889.3 363.7h0M703.4 256.7h0M740.9 293.4h0M885.1 356.8h0M875.5 345.8h0M882 334.9h0M686.8 239.7h0M687.8 268.1h0M692.6 246.4h0M690.9 270.3h0M695.7 247.8h0M694.8 275.9h0M700.3 250.7h0M700.3 279.1h0M701.9 245.4h0M703.1 278.4h0M705.5 250.4h0M705.9 276.9h0M709 253.5h0M709.9 282.8h0M714.4 256.5h0M712.5 286.9h0M717.4 257.1h0M716.5 286.8h0M720.8 257.3h0M722.3 282.9h0M725 256.5h0M724.9 289.5h0M726.9 255.8h0M726.9 289.1h0M731.6 258.5h0M732.6 294.8h0M735.8 258.9h0M735.1 292.7h0M739.4 266.2h0M738.2 296.7h0M742.5 263.2h0M743.4 292.7h0M745.4 270.6h0M746 295.9h0M750.7 272h0M750 299.3h0M755.4 271.7h0M752.5 305.9h0M759 276.8h0M758.7 304.4h0M762.5 273.5h0M761.6 307.7h0M763.5 279.6h0M763.7 302.6h0M767.8 281.8h0M767.4 307.1h0M771.2 283.2h0M773.6 313.6h0M777.1 284.7h0M776.1 315.3h0M779.3 282.7h0M780.7 316.8h0M783.4 286.4h0M783.9 317h0M786.2 286.5h0M787.4 314.2h0M790.2 287.3h0M790.1 321.6h0M793.6 289.6h0M795.1 315.9h0M797.3 293.7h0M798 325.5h0M801.2 289.1h0M800.5 327h0M804.6 295.8h0M804.5 328h0M808 299.7h0M807.4 326.9h0M812.8 298.9h0M812.9 328.3h0M817.1 300.5h0M816.9 329.9h0M821.3 299.4h0M821.1 330.7h0M824 305.6h0M822.6 334h0M826.4 301.3h0M825.9 337.7h0M832 301.6h0M830.1 337.4h0M834.8 305.8h0M834.2 334.6h0M837.8 308.7h0M837 338.8h0M843.2 313.8h0M842.8 339.4h0M845.8 315.7h0M846.5 344.6h0M848.4 315.3h0M848.6 344.8h0M853 314.4h0M851.3 348.3h0M857.9 318.4h0M855.8 348.2h0M861 319.5h0M859.7 347.2h0M864.7 322.1h0M865.1 352.1h0M866.6 323.8h0M868.8 356.1h0M872.4 328h0M870.3 357.8h0M874.1 325.3h0M874.1 357.1h0M878.2 324.5h0M879.1 357.1h0M881.9 332.8h0M882.6 359h0M884.2 334.2h0M884.9 360.3h0M889.4 330.9h0M890.6 359.7h0M892.1 334.5h0M892.7 366.6h0M897.9 334.7h0M897.3 368.1h0M899.1 338.3h0M899.9 364h0M903.4 341.5h0M904.5 367.5h0M729 303h0M779 328.6h0M795 331h0M802 334h0M806 341h0M798 337h0M808 330h0M865.7 364h0M896 379.6h0M745 252h0M714 243h0M692.5 240.5h0M688.5 244h0M688.5 270h0M903 366h0M904 344h0M900 372h0M890 368h0" stroke="#e8409a" stroke-width="9" stroke-linecap="round" fill="none"/>
<path d="M686 256L904 354" stroke="#f6a9cc" stroke-width="3.2" fill="none"/>
<path d="M680.1 61.6V136.5M690 156.8V199.5M903.2 156.8V274.5M1242 61.5V401.5" stroke="#0c0c0c" stroke-width="2.1" fill="none"/>
<path d="M699 83.75H1223M690 171.25H881" stroke="#0c0c0c" stroke-width="2.1" fill="none"/>
<path d="M681.4 83.75L701 77.8V89.7ZM1240.8 83.75L1221.2 77.8V89.7ZM902.4 171.25L879 164.9V177.6Z" fill="#0c0c0c"/>
<text x="718.82" y="63.10" font-size="38.5" textLength="20.21" lengthAdjust="spacingAndGlyphs"><tspan class="i">n</tspan></text>
<text class="u" x="737.75" y="67.20" font-size="25.5" textLength="13.37" lengthAdjust="spacingAndGlyphs">g</text>
<text x="753.16" y="63.10" font-size="38.5" textLength="19.60" lengthAdjust="spacingAndGlyphs"><tspan class="i">L</tspan></text>
<text class="u" x="780.73" y="60.20" font-size="31.5" textLength="24.57" lengthAdjust="spacingAndGlyphs">=</text>
<text x="813.97" y="63.10" font-size="38.5" textLength="84.24" lengthAdjust="spacingAndGlyphs">78.04</text>
<text x="909.62" y="63.10" font-size="38.5" textLength="56.08" lengthAdjust="spacingAndGlyphs">cm,</text>
<text x="977.49" y="63.10" font-size="38.5" textLength="20.78" lengthAdjust="spacingAndGlyphs"><tspan class="i">L</tspan></text>
<text class="u" x="1006.06" y="60.20" font-size="31.5" textLength="25.29" lengthAdjust="spacingAndGlyphs">=</text>
<text x="1041.27" y="63.10" font-size="38.5" textLength="84.88" lengthAdjust="spacingAndGlyphs">18.08</text>
<text x="1136.95" y="63.10" font-size="38.5" textLength="45.37" lengthAdjust="spacingAndGlyphs">cm</text>
<text x="696.12" y="138.90" font-size="37.5" textLength="20.63" lengthAdjust="spacingAndGlyphs"><tspan class="i">n</tspan></text>
<text class="u" x="715.40" y="143.00" font-size="25.5" textLength="12.81" lengthAdjust="spacingAndGlyphs">g</text>
<text x="731.92" y="138.90" font-size="37.5" textLength="21.50" lengthAdjust="spacingAndGlyphs"><tspan class="i">L</tspan></text>
<text class="u" x="752.23" y="142.60" font-size="24.5" textLength="14.25" lengthAdjust="spacingAndGlyphs">st</text>
<text x="838.83" y="138.90" font-size="37.5" textLength="20.62" lengthAdjust="spacingAndGlyphs"><tspan class="i">n</tspan></text>
<text class="u" x="857.78" y="143.00" font-size="25.5" textLength="13.03" lengthAdjust="spacingAndGlyphs">g</text>
<text x="869.88" y="138.90" font-size="37.5" textLength="13.68" lengthAdjust="spacingAndGlyphs">(</text>
<text x="883.99" y="138.90" font-size="37.5" textLength="20.32" lengthAdjust="spacingAndGlyphs"><tspan class="i">L</tspan></text>
<text class="u" x="904.24" y="142.40" font-size="24.5" textLength="22.18" lengthAdjust="spacingAndGlyphs">ev</text>
<text class="u" x="928.16" y="141.10" font-size="37.5" textLength="22.24" lengthAdjust="spacingAndGlyphs">−</text>
<text x="953.30" y="138.90" font-size="37.5" textLength="20.75" lengthAdjust="spacingAndGlyphs"><tspan class="i">L</tspan></text>
<text class="u" x="973.41" y="142.40" font-size="24.5" textLength="16.18" lengthAdjust="spacingAndGlyphs">st</text>
<text x="990.41" y="138.90" font-size="37.5" textLength="12.89" lengthAdjust="spacingAndGlyphs">)</text>
<text class="p" x="744.75" y="231.60" font-size="37" textLength="120.67" lengthAdjust="spacingAndGlyphs">Filtered</text>
<text x="964.79" y="331.70" font-size="38.5" textLength="71.09" lengthAdjust="spacingAndGlyphs">Raw</text>
<text x="696.31" y="592.00" font-size="38.5" textLength="112.21" lengthAdjust="spacingAndGlyphs">Optical</text>
<text x="821.23" y="592.00" font-size="38.5" textLength="66.41" lengthAdjust="spacingAndGlyphs">Path</text>
<text x="898.52" y="592.00" font-size="38.5" textLength="106.73" lengthAdjust="spacingAndGlyphs">Length</text>
<text x="1016.62" y="592.00" font-size="38.5" textLength="20.21" lengthAdjust="spacingAndGlyphs"><tspan class="i">n</tspan></text>
<text class="u" x="1034.73" y="596.00" font-size="26" textLength="14.21" lengthAdjust="spacingAndGlyphs">g</text>
<text x="1050.07" y="592.00" font-size="38.5" textLength="20.35" lengthAdjust="spacingAndGlyphs"><tspan class="i">L</tspan></text>
<text x="1080.25" y="592.00" font-size="38.5" textLength="55.04" lengthAdjust="spacingAndGlyphs">[10</text>
<text x="1142.20" y="592.00" font-size="38.5" textLength="119.65" lengthAdjust="spacingAndGlyphs">cm/div]</text>
<text transform="translate(615.60 451.29) rotate(-90)" font-size="39" textLength="325.37" lengthAdjust="spacingAndGlyphs">Intensity [10 dB/div]</text>
<text class="s" x="598.76" y="25.20" font-size="33" textLength="39.27" lengthAdjust="spacingAndGlyphs">(c)</text>
</g>
</svg></body></html>
